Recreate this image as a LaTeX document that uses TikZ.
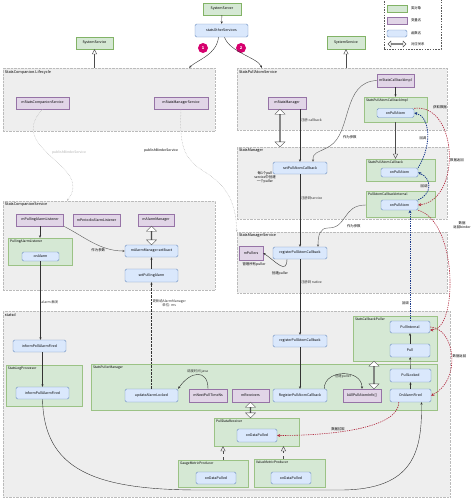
\documentclass[tikz,border=0pt]{standalone}
\usepackage{fontspec}
\setmainfont{Noto Sans CJK SC}
\usetikzlibrary{arrows.meta,calc,fit,shapes.arrows}

\definecolor{grpfill}{HTML}{EEEEEE}
\definecolor{grpline}{HTML}{BBBBBB}
\definecolor{clsfill}{HTML}{D5E8D4}
\definecolor{clsline}{HTML}{82B366}
\definecolor{varfill}{HTML}{E1D5E7}
\definecolor{varline}{HTML}{9673A6}
\definecolor{fnfill}{HTML}{DAE8FC}
\definecolor{fnline}{HTML}{6C8EBF}
\definecolor{cbblue}{HTML}{1B3A8C}
\definecolor{datared}{HTML}{B0243A}
\definecolor{badge}{HTML}{D6006E}

\tikzset{
  base/.style={font=\fontsize{3.5}{4}\selectfont, inner sep=0.5pt, minimum height=12pt, line width=0.4pt},
  cls/.style={base, fill=clsfill, draw=clsline},
  var/.style={base, fill=varfill, draw=varline},
  fn/.style={base, fill=fnfill, draw=fnline, rounded corners=1.5pt},
  grp/.style={fill=grpfill, draw=grpline, densely dotted, inner sep=0pt, line width=0.4pt},
  clsgrp/.style={fill=clsfill, draw=clsline!80, inner sep=0pt, line width=0.4pt},
  ttl/.style={anchor=north west, inner sep=2pt, font=\fontsize{3.8}{4.5}\selectfont},
  ttls/.style={anchor=north west, inner sep=2pt, font=\fontsize{3.3}{4}\selectfont},
  lbl/.style={font=\fontsize{3.4}{4}\selectfont, inner sep=0.8pt, align=center},
  arr/.style={-{Stealth[length=2.5pt,width=2.2pt]}, line width=0.4pt, black!80},
  inh/.style={-{Triangle[open,length=5pt,width=5pt]}, line width=0.4pt, gray!60!black},
  pub/.style={densely dotted, gray!60, line width=0.5pt, -{Stealth[length=2.2pt]}},
  cb/.style={cbblue, line width=0.8pt, dash pattern=on 1.3pt off 1pt, -{Stealth[length=3pt,width=3pt]}},
  data/.style={datared, line width=0.6pt, dash pattern=on 1.3pt off 1pt, -{Stealth[length=3pt,width=3pt]}},
  dblarr/.style={double arrow, draw=gray!60!black, fill=white, line width=0.4pt, minimum width=10pt,
    double arrow head extend=2.5pt, inner sep=0pt},
  num/.style={circle, fill=badge, text=white, minimum size=10pt, inner sep=0pt, font=\fontsize{4}{4}\selectfont\bfseries},
}

\newcommand{\relarrow}[2]{%
  \path let \p1=(#1), \p2=(#2), \n1={veclen(\x2-\x1,\y2-\y1)} in
    node[dblarr, minimum height=\n1, rotate=90] at ($(\p1)!0.5!(\p2)$) {};}

\begin{document}
\begin{tikzpicture}[x=1pt, y=-1pt]
  \useasboundingbox (0,0) rectangle (474,504);

  % gray groups
  \node[grp, fit={(3,68) (215,131)}, label={[ttl]north west:StatsCompanion.Lifecycle}] (lifecycle) {};
  \node[grp, fit={(237,68) (447,130)}, label={[ttl]north west:StatsPullAtomService}] (pullSvc) {};
  \node[grp, fit={(237,147) (447,219)}, label={[ttl]north west:StatsManager}] (statsMgr) {};
  \node[grp, fit={(3,201) (215,290)}, label={[ttl]north west:StatsCompanionService}] (compSvc) {};
  \node[grp, fit={(237,232) (447,293)}, label={[ttl]north west:StatsManagerService}] (mgrSvc) {};
  \node[grp, fit={(3,311) (450,497)}, label={[ttl]north west:statsd}] (statsd) {};

  % class groups
  \node[clsgrp, fit={(364,97) (427,122)}, label={[ttls]north west:StatsPullAtomCallbackImpl}] (cbImplBox) {};
  \node[clsgrp, fit={(366,159) (435,181)}, label={[ttls]north west:StatsPullAtomCallback}] (pullCbBox) {};
  \node[clsgrp, fit={(366,191) (435,217)}, label={[ttls]north west:PullAtomCallbackInternal}] (cbInternalBox) {};
  \node[clsgrp, fit={(8,238) (72,265)}, label={[ttls]north west:PullingAlarmListener}] (alarmListenerBox) {};
  \node[clsgrp, fit={(6,365) (82,406)}, label={[ttls]north west:StatsLogProcessor}] (logProcBox) {};
  \node[clsgrp, fit={(91,364) (437,410)}, label={[ttls]north west:StatsPullerManager}] (pullerMgrBox) {};
  \node[clsgrp, fit={(353,316) (437,361)}, label={[ttls]north west:StatsCallbackPuller}] (cbPullerBox) {};
  \node[clsgrp, fit={(214,418) (299,446)}, label={[ttls]north west:PullDataReceiver}] (receiverBox) {};
  \node[clsgrp, fit={(178,460) (248,487)}, label={[ttls]north west:GaugeMetricProducer}] (gaugeBox) {};
  \node[clsgrp, fit={(254,459) (325,487)}, label={[ttls]north west:ValueMetricProducer}] (valueBox) {};

  % legend
  \node[draw=gray!70!black, dash pattern=on 1.5pt off 1.2pt, line width=0.5pt, fit={(384,-3) (441,49)}, inner sep=0pt] (legend) {};
  \node[cls, minimum width=20pt, minimum height=7pt] (lgCls) at (397,8.5) {};
  \node[var, minimum width=20pt, minimum height=7pt] (lgVar) at (397,20.5) {};
  \node[fn, minimum width=20pt, minimum height=7pt] (lgFn) at (397,33.5) {};
  \node[dblarr, minimum height=18pt, minimum width=6pt, double arrow head extend=1.5pt] (lgRel) at (397,44) {};
  \node[lbl, anchor=west] (lgClsTxt) at (410,8.5) {类对象};
  \node[lbl, anchor=west] (lgVarTxt) at (410,20.5) {变量名};
  \node[lbl, anchor=west] (lgFnTxt) at (410,33.5) {函数名};
  \node[lbl, anchor=west] (lgRelTxt) at (410,44) {对应关系};

  % top
  \node[cls, minimum width=38pt] (sysServer) at (222,9) {SystemServer};
  \node[fn, minimum width=53pt, minimum height=13pt] (otherSvc) at (221.5,30.5) {statsOtherServices};
  \node[cls, minimum width=37pt] (sysSvcA) at (94.5,43) {SystemService};
  \node[cls, minimum width=38pt, minimum height=13pt] (sysSvcB) at (346,42.5) {SystemService};
  \node[num] (one) at (203,48) {1};
  \node[num] (two) at (241,48) {2};

  % StatsCompanion.Lifecycle / StatsPullAtomService
  \node[var, minimum width=53pt] (mCompSvc) at (42.5,103) {mStatsCompanionService};
  \node[var, minimum width=54pt] (mMgrSvc) at (181,103) {mStatsManagerService};
  \node[var, minimum width=37pt, minimum height=13pt] (mCbImpl) at (395.5,80.5) {mStatsCallbackImpl};
  \node[fn, minimum width=37pt, minimum height=9pt] (onPullA) at (395.5,113) {onPullAtom};
  \node[var, minimum width=38pt] (mStatsMgr) at (287,103) {mStatsManager};

  % StatsManager
  \node[fn, minimum width=54pt] (setCb) at (300,168) {setPullAtomCallback};
  \node[lbl, align=center] (pullerNote) at (265,177) {每1个pull\\service中创建\\一个puller};
  \node[fn, minimum width=37pt, minimum height=9pt] (onPullB) at (399.5,172.5) {onPullAtom};
  \node[fn, minimum width=37pt, minimum height=10pt] (onPullC) at (399.5,205) {onPullAtom};

  % StatsManagerService
  \node[var, minimum width=24pt, minimum height=14pt] (mPullers) at (251,253) {mPullers};
  \node[lbl] (mPullersNote) at (254,264) {管理所有puller};
  \node[fn, minimum width=54pt] (regCbJ) at (300,253) {registerPullAtomCallback};

  % StatsCompanionService
  \node[var, minimum width=47pt] (mPullingL) at (40,220) {mPullingAlarmListener};
  \node[var, minimum width=47pt] (mPeriodicL) at (96.5,220) {mPeriodicAlarmListener};
  \node[var, minimum width=36pt] (mAlarmMgr) at (156,220) {mAlarmManager};
  \node[fn, minimum width=37pt, minimum height=9pt] (onAlarm) at (40.5,256.5) {onAlarm};
  \node[fn, minimum width=53pt] (setExact) at (151.5,251) {mAlarmManager.setExact};
  \node[fn, minimum width=53pt, minimum height=13pt] (setAlarm) at (151.5,275.5) {setPullingAlarm};

  % statsd
  \node[fn, minimum width=53pt] (informPoll) at (39.5,346) {informPollAlarmFired};
  \node[fn, minimum width=53pt] (informPull) at (42.5,393) {informPullAlarmFired};
  \node[fn, minimum width=53pt, minimum height=13pt] (updAlarm) at (151.5,395.5) {updateAlarmLocked};
  \node[var, minimum width=38pt, minimum height=13pt] (mNextPull) at (208,395.5) {mNextPullTimeNs};
  \node[var, minimum width=37pt, minimum height=13pt] (mReceivers) at (250.5,395.5) {mReceivers};
  \node[fn, minimum width=54pt, minimum height=13pt] (regCbN) at (300,395.5) {RegisterPullAtomCallback};
  \node[var, minimum width=38pt, minimum height=13pt] (kAllPull) at (362,395.5) {kAllPullAtomInfo[]};
  \node[fn, minimum width=41pt, minimum height=13pt] (onAlarmFired) at (410.5,395.5) {OnAlarmFired};
  \node[fn, minimum width=41pt, minimum height=13pt] (pullLocked) at (410.5,375.5) {PullLocked};
  \node[fn, minimum width=40pt] (pullInternal) at (410,327) {PullInternal};
  \node[fn, minimum width=40pt, minimum height=13pt] (pullN) at (410,350.5) {Pull};
  \node[fn, minimum width=54pt] (regCbS) at (300,341) {registerPullAtomCallback};
  \node[fn, minimum width=40pt, minimum height=13pt] (onDataR) at (257,435.5) {onDataPulled};
  \node[fn, minimum width=40pt] (onDataG) at (216,478) {onDataPulled};
  \node[fn, minimum width=40pt] (onDataV) at (291,478) {onDataPulled};

  % helper points
  \coordinate (mgrArr) at ($(mStatsMgr.south)+(-7,0)$);
  \coordinate (kArr) at ($(kAllPull.north)+(12,0)$);
  \coordinate (gArr) at ($(gaugeBox.north)+(10,0)$);
  \coordinate (vArr) at ($(valueBox.north)+(-6,0)$);

  % top connectors
  \draw[arr] (sysServer) -- (otherSvc);
  \draw[arr] ($(otherSvc.south)+(-3,0)$) .. controls +(-2,18) and +(8,-8) .. ($(lifecycle.north east)+(-26,0)$);
  \draw[arr] ($(otherSvc.south)+(3,0)$) .. controls +(5,15) and +(-4,-10) .. ($(pullSvc.north west)+(25,0)$);
  \draw[inh] (sysSvcA.south |- lifecycle.north) -- (sysSvcA);
  \draw[inh] (sysSvcB.south |- pullSvc.north) -- (sysSvcB);

  % publishBinderService
  \draw[pub] (mCompSvc.south) .. controls (5,150) and (95,165) .. node[lbl, pos=0.45, right, xshift=4pt] (pubA) {publishBinderService} (compSvc.north -| 67,0);
  \draw[pub] (mMgrSvc.south) .. controls (179,150) and (185,160) .. (208,174) .. controls (232,190) and (236,210) .. (mgrSvc.north west);
  \node[lbl, anchor=east] (pubB) at (179,151) {publishBinderService};

  % StatsPullAtomService
  \draw[arr] (mCbImpl) -- (cbImplBox);
  \draw[inh] (cbImplBox.south) -- (cbImplBox.south |- pullCbBox.north);
  \relarrow{mgrArr}{mgrArr |- statsMgr.north}
  \draw[arr] (mStatsMgr.south -| setCb.north) -- node[lbl, right, pos=0.2] (regCbTxt) {注册 callback} (setCb.north);
  \draw[arr, gray!70!black] (mCbImpl.west) .. controls (342,82) and (352,132) .. (330,146) .. controls (316,154) and (313,152) .. ($(setCb.north)+(13,0)$);
  \node[lbl, anchor=west] (paramA) at (342,137) {作为参数};

  % StatsManager -> StatsManagerService
  \draw[arr] (setCb.south) -- node[lbl, right, pos=0.33] (toSvcTxt) {注册到service} (regCbJ.north);
  \draw[arr, gray!70!black] (cbInternalBox.west |- onPullC) .. controls (342,205) and (348,228) .. (328,228) .. controls (320,228) and (318,235) .. ($(regCbJ.north)+(18,0)$);
  \node[lbl, anchor=west] (paramB) at (346,226) {作为参数};
  \draw[arr] ($(regCbJ.south)+(-13,0)$) .. controls +(0,16) and +(12,8) .. (mPullers.east);
  \node[lbl] (mkPullerA) at (280,273) {创建puller};
  \draw[arr] (regCbJ.south) -- node[lbl, right, pos=0.31] (toNativeTxt) {注册到 native} (regCbS.north);
  \draw[arr] (regCbS.south) -- (regCbN.north);

  % StatsCompanionService
  \draw[arr] (mPullingL) -- (alarmListenerBox.north -| mPullingL);
  \draw[arr, gray!70!black] (mPullingL.south east) .. controls +(20,10) and +(-25,0) .. node[lbl, below, pos=0.6, yshift=-2pt, black] (paramC) {作为参数} (setExact.west);
  \relarrow{setExact.north |- mAlarmMgr.south}{setExact.north}
  \draw[arr] (setAlarm) -- (setExact);
  \draw[arr] (onAlarm.south) -- node[lbl, right, pos=0.52] (alarmTxt) {alarm 触发} (onAlarm.south |- informPoll.north);
  \draw[arr, densely dotted] (updAlarm) -- node[lbl, right, pos=0.8] (updTxt) {更新给AlarmManager\\单位: ms} (setAlarm);

  % statsd
  \draw[arr] (informPull.north |- informPoll.south) -- (informPull.north);
  \draw[arr] (mNextPull.north) .. controls +(0,-20) and +(12,-18) .. node[lbl, above, pos=0.5] (javaTxt) {调度时间 java} (updAlarm.north east);
  \draw[arr] ($(regCbN.north east)+(-3,0)$) .. controls +(0,-20) and +(0,-20) .. node[lbl, below, pos=0.5] (mkPullerB) {创建puller} (kAllPull.north);
  \relarrow{kArr}{kArr |- cbPullerBox.south}
  \draw[arr] (onAlarmFired) -- (pullLocked);
  \draw[arr] (pullLocked) -- (pullN);
  \draw[arr] (pullN) -- (pullInternal);
  \relarrow{mReceivers.south}{mReceivers.south |- receiverBox.north}
  \draw[inh, dashed] (gArr) -- (gArr |- receiverBox.south);
  \draw[inh, dashed] (vArr) -- (vArr |- receiverBox.south);
  \draw[arr] (informPull.south) .. controls (44,470) and (95,490) .. (200,490) -- (340,490) .. controls (415,490) and (422,450) .. ($(onAlarmFired.south)+(11,0)$);
  \draw[data] ($(onAlarmFired.south west)+(9,0)$) .. controls +(0,25) and +(60,0) .. node[lbl, above, pos=0.65, black] (pullDataTxt) {数据拉取} (onDataR.east);

  % callbacks
  \draw[cb] (pullInternal.north) -- node[lbl, left, pos=0.16, black] (cbTxtA) {回调} (pullInternal.north |- onPullC.south);
  \draw[cb] (onPullC.north east) .. controls +(14,-6) and +(14,6) .. node[lbl, left, black] (cbTxtB) {回调} (onPullB.east);
  \draw[cb] (onPullB.north east) .. controls +(15,-25) and +(15,3) .. node[lbl, left, pos=0.4, black] (cbTxtC) {回调} (onPullA.east);

  % data back
  \draw[data] (onPullA.north east) .. controls (458,103) and (462,200) .. node[lbl, right, pos=0.55, black] (backTxtA) {数据返回} (onPullC.east);
  \node[lbl] (fillTxt) at (440,107) {获取数据};
  \draw[data] (onPullC.south east) .. controls (458,222) and (458,330) .. ($(pullInternal.east)+(0,3)$);
  \node[lbl] (binderTxt) at (462,225) {数据\\返回binder};
  \draw[data] (pullInternal.east) .. controls (455,328) and (462,380) .. node[lbl, right, pos=0.5, black] (backTxtB) {数据返回} (onAlarmFired.east);
\end{tikzpicture}
\end{document}
